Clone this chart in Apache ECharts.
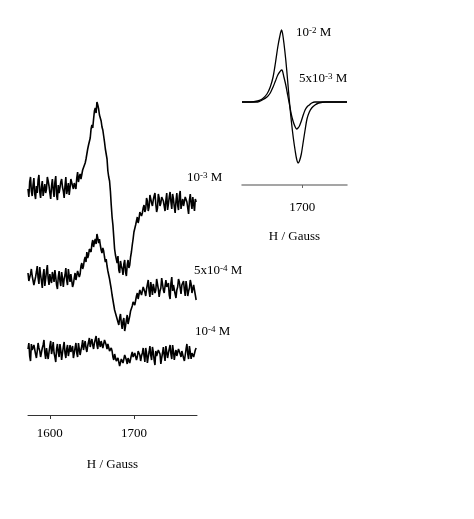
<!DOCTYPE html>
<html><head><meta charset="utf-8">
<script src="https://cdn.jsdelivr.net/npm/echarts@6/dist/echarts.min.js"></script>
<style>html,body{margin:0;padding:0;background:#fff}#c{width:474px;height:519px}</style>
</head><body><div id="c"></div>
<script>
// Main panel: field (Gauss) sampled every 1 G from 1574 to 1774
var mainFieldStart = 1574, mainFieldStep = 1;
var trace1e3 = [226,218,233,238,224,219,230,237,221,216,229,222,235,240,223,217,228,234,219,225,231,222,226,238,234,229,222,216,229,236,225,218,233,239,220,215,230,222,227,233,236,228,224,217,229,238,221,226,232,220,227,236,235,229,226,232,231,226,237,243,233,238,241,236,238,245,247,244,252,256,258,266,270,268,277,286,290,287,296,304,307,302,313,310,306,300,298,294,288,285,279,273,266,264,256,244,238,234,224,210,198,190,178,166,160,156,152,159,145,142,154,149,146,140,151,155,143,139,150,155,147,150,158,163,170,176,183,185,190,194,198,192,196,203,205,199,202,207,210,203,206,217,214,204,208,220,216,212,209,215,219,222,211,203,207,221,217,209,212,218,220,214,209,204,215,222,205,211,218,223,213,206,221,216,208,202,214,222,210,205,219,224,206,212,216,209,211,218,220,213,207,201,215,221,212,206,218,211,204,216,213];
var trace5e4 = [142,134,135,141,146,139,138,130,131,138,143,149,137,131,148,140,134,127,140,146,129,136,144,150,136,130,141,135,132,143,139,133,145,138,130,126,138,144,134,129,143,137,128,136,140,147,135,130,146,139,133,141,139,128,131,137,142,135,137,144,145,138,141,149,152,146,149,155,158,153,163,157,160,166,168,163,171,175,168,173,176,171,181,177,172,176,170,165,162,167,164,158,153,156,149,144,140,136,131,126,120,115,110,105,103,99,96,93,90,97,101,92,86,94,97,84,89,95,100,91,93,99,104,102,109,113,115,110,112,119,122,116,118,125,127,120,121,128,130,123,119,126,128,135,124,118,133,127,120,131,129,122,125,136,134,126,118,124,127,137,131,125,122,129,135,128,126,132,120,116,132,138,124,130,130,121,117,125,128,136,133,127,121,130,129,134,125,119,134,128,119,124,127,135,131,122,123,130,129,120,115];
var trace1e4 = [66,72,59,54,71,65,63,70,68,61,57,64,72,67,64,58,60,67,70,75,62,56,67,61,56,63,69,74,61,66,73,62,58,53,66,71,63,58,71,65,55,62,68,73,62,57,66,70,59,64,70,63,64,69,57,62,67,72,62,58,72,66,60,65,69,75,65,70,74,67,63,69,71,77,68,73,76,70,66,72,74,79,70,66,77,72,68,74,73,67,69,75,75,70,66,71,70,64,62,67,64,58,55,61,60,54,52,57,58,49,50,56,57,52,53,60,61,55,51,57,58,52,54,60,63,58,56,62,61,55,58,64,66,60,54,59,62,67,59,53,67,62,52,58,63,69,60,55,68,63,55,50,64,59,58,65,66,61,51,57,62,68,60,54,69,63,57,62,64,70,61,56,70,64,55,61,65,59,60,66,67,61,58,64,63,57,54,60,66,71,61,56,69,63,56,62,64,58,59,65,67];
var mainTicks = [1600, 1700];

// Inset panel
var insetField = [1572,1590,1605,1615,1625,1632,1638,1643,1648,1652,1656,1658,1661,1665,1669,1673,1677,1681,1685,1688,1691,1694,1698,1702,1706,1710,1715,1720,1727,1735,1750,1765,1780,1795];
var inset1e2 = [83,83,84,86,91,98,108,122,138,148,155,152,142,125,104,82,63,47,34,26,22,24,31,43,55,66,73,77,80,82,83,83,83,83];
var inset5e3 = [83,83,83,85,88,92,98,104,110,113,115,114,108,100,90,80,70,63,58,56,57,59,64,70,75,78,80,82,83,83,83,83,83,83];
var insetTicks = [1700];

function mainPairs(arr){ return arr.map(function(v,i){ return [mainFieldStart + i*mainFieldStep, v]; }); }
function insetPairs(arr){ return arr.map(function(v,i){ return [insetField[i], v]; }); }

var serif = '"Liberation Serif","Times New Roman",serif';
var rich = {
  n:{fontFamily:serif,fontSize:13,color:'#000'},
  s:{fontFamily:serif,fontSize:9,color:'#000',verticalAlign:'top'}
};
function plain(v){ return String(v); }

var chart = echarts.init(document.getElementById('c'), null, {renderer:'canvas'});
var lineStyleMain = {color:'#000', width:1.6};
chart.setOption({
  animation:false,
  backgroundColor:'#fff',
  grid:[
    {left:28, top:95, width:169, height:320},
    {left:242, top:20, width:105, height:165}
  ],
  xAxis:[
    {gridIndex:0, type:'value', min:1574, max:1775,
     axisLine:{lineStyle:{color:'#333', width:1}},
     axisTick:{customValues:mainTicks, length:4, lineStyle:{color:'#333'}},
     axisLabel:{customValues:mainTicks, formatter:plain, margin:12, fontFamily:serif, fontSize:13, color:'#000'},
     splitLine:{show:false},
     name:'H / Gauss', nameLocation:'middle', nameGap:43,
     nameTextStyle:{fontFamily:serif, fontSize:13, color:'#000'}},
    {gridIndex:1, type:'value', min:1572, max:1795,
     axisLine:{lineStyle:{color:'#888', width:1.5}},
     axisTick:{customValues:insetTicks, length:3, lineStyle:{color:'#666'}},
     axisLabel:{customValues:insetTicks, formatter:plain, margin:16, fontFamily:serif, fontSize:13, color:'#000'},
     splitLine:{show:false},
     name:'H / Gauss', nameLocation:'middle', nameGap:45,
     nameTextStyle:{fontFamily:serif, fontSize:13, color:'#000'}}
  ],
  yAxis:[
    {gridIndex:0, type:'value', min:0, max:320, show:false},
    {gridIndex:1, type:'value', min:0, max:165, show:false}
  ],
  series:[
    {type:'line', xAxisIndex:0, yAxisIndex:0, data:mainPairs(trace1e3), showSymbol:false, lineStyle:lineStyleMain},
    {type:'line', xAxisIndex:0, yAxisIndex:0, data:mainPairs(trace5e4), showSymbol:false, lineStyle:lineStyleMain},
    {type:'line', xAxisIndex:0, yAxisIndex:0, data:mainPairs(trace1e4), showSymbol:false, lineStyle:lineStyleMain},
    {type:'line', xAxisIndex:1, yAxisIndex:1, data:insetPairs(inset1e2), showSymbol:false, smooth:0.3, lineStyle:{color:'#000', width:1.3}},
    {type:'line', xAxisIndex:1, yAxisIndex:1, data:insetPairs(inset5e3), showSymbol:false, smooth:0.3, lineStyle:{color:'#000', width:1.3}}
  ],
  graphic:[
    {type:'text', left:187, top:171, style:{text:'{n|10}{s|-3}{n| M}', rich:rich}},
    {type:'text', left:194, top:264, style:{text:'{n|5x10}{s|-4}{n| M}', rich:rich}},
    {type:'text', left:195, top:325, style:{text:'{n|10}{s|-4}{n| M}', rich:rich}},
    {type:'text', left:296, top:26, style:{text:'{n|10}{s|-2}{n| M}', rich:rich}},
    {type:'text', left:299, top:72, style:{text:'{n|5x10}{s|-3}{n| M}', rich:rich}}
  ]
});
</script>
</body></html>
